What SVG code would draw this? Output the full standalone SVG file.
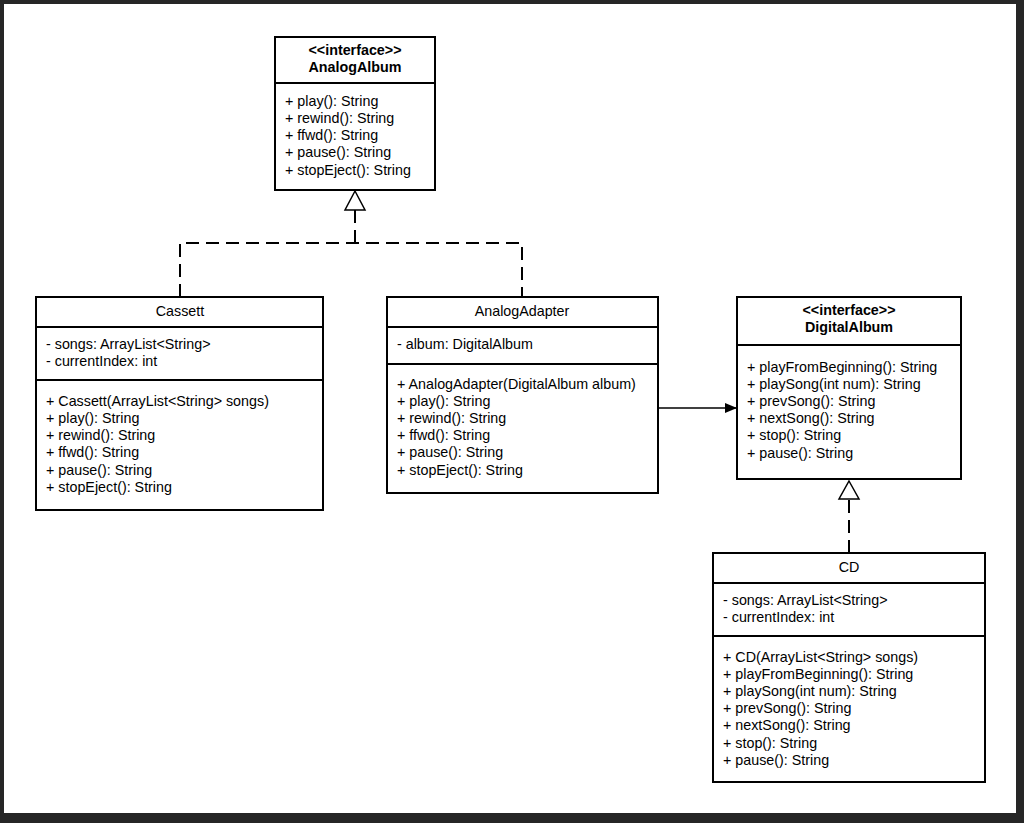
<svg xmlns="http://www.w3.org/2000/svg" width="1024" height="823" viewBox="0 0 1024 823">
<defs>
<style>
.box{fill:#fff;stroke:#000;stroke-width:2}
.div{stroke:#000;stroke-width:2}
text{font-family:"Liberation Sans",Arial,sans-serif;font-size:14.3px;fill:#000}
.t{text-anchor:middle}
.b{font-weight:bold}
.dash{fill:none;stroke:#000;stroke-width:2;stroke-dasharray:13 7}
.line{fill:none;stroke:#000;stroke-width:1.5}
.tri{fill:#fff;stroke:#000;stroke-width:1.5}
</style>
<marker id="arr" markerWidth="12" markerHeight="10" refX="12" refY="5" orient="auto" markerUnits="userSpaceOnUse">
<path d="M0,0 L12,5 L0,10 Z" fill="#000"/>
</marker>
</defs>
<rect x="0" y="0" width="1024" height="823" fill="#262626"/>
<rect x="4" y="4" width="1012" height="809" fill="#fff"/>

<g id="connectors">
<path class="dash" d="M180,297 V243 H522 V297"/>
<path class="dash" d="M355,243 V210"/>
<path class="tri" d="M355,191 L365,210 L345,210 Z"/>
<path class="dash" d="M849,553 V499"/>
<path class="tri" d="M849,481 L859,499 L839,499 Z"/>
<path class="line" d="M658,408 H737" marker-end="url(#arr)"/>
</g>

<g id="AnalogAlbum">
<rect class="box" x="275" y="37" width="160" height="153"/>
<line class="div" x1="275" y1="83" x2="435" y2="83"/>
<text class="t b" x="355" y="55">&lt;&lt;interface&gt;&gt;</text>
<text class="t b" x="355" y="72">AnalogAlbum</text>
<text x="285" y="106">+ play(): String</text>
<text x="285" y="123">+ rewind(): String</text>
<text x="285" y="140">+ ffwd(): String</text>
<text x="285" y="157">+ pause(): String</text>
<text x="285" y="175">+ stopEject(): String</text>
</g>

<g id="Cassett">
<rect class="box" x="36" y="297" width="287" height="213"/>
<line class="div" x1="36" y1="327" x2="323" y2="327"/>
<line class="div" x1="36" y1="380" x2="323" y2="380"/>
<text class="t" x="180" y="316">Cassett</text>
<text x="46" y="349">- songs: ArrayList&lt;String&gt;</text>
<text x="46" y="366">- currentIndex: int</text>
<text x="46" y="406">+ Cassett(ArrayList&lt;String&gt; songs)</text>
<text x="46" y="423">+ play(): String</text>
<text x="46" y="440">+ rewind(): String</text>
<text x="46" y="457">+ ffwd(): String</text>
<text x="46" y="475">+ pause(): String</text>
<text x="46" y="492">+ stopEject(): String</text>
</g>

<g id="AnalogAdapter">
<rect class="box" x="387" y="297" width="271" height="196"/>
<line class="div" x1="387" y1="327" x2="658" y2="327"/>
<line class="div" x1="387" y1="364" x2="658" y2="364"/>
<text class="t" x="522" y="316">AnalogAdapter</text>
<text x="397" y="349">- album: DigitalAlbum</text>
<text x="397" y="389">+ AnalogAdapter(DigitalAlbum album)</text>
<text x="397" y="406">+ play(): String</text>
<text x="397" y="423">+ rewind(): String</text>
<text x="397" y="440">+ ffwd(): String</text>
<text x="397" y="457">+ pause(): String</text>
<text x="397" y="475">+ stopEject(): String</text>
</g>

<g id="DigitalAlbum">
<rect class="box" x="737" y="297" width="224" height="182"/>
<line class="div" x1="737" y1="345" x2="961" y2="345"/>
<text class="t b" x="849" y="315">&lt;&lt;interface&gt;&gt;</text>
<text class="t b" x="849" y="332">DigitalAlbum</text>
<text x="747" y="372">+ playFromBeginning(): String</text>
<text x="747" y="389">+ playSong(int num): String</text>
<text x="747" y="406">+ prevSong(): String</text>
<text x="747" y="423">+ nextSong(): String</text>
<text x="747" y="440">+ stop(): String</text>
<text x="747" y="458">+ pause(): String</text>
</g>

<g id="CD">
<rect class="box" x="713" y="553" width="272" height="229"/>
<line class="div" x1="713" y1="583" x2="985" y2="583"/>
<line class="div" x1="713" y1="636" x2="985" y2="636"/>
<text class="t" x="849" y="572">CD</text>
<text x="723" y="605">- songs: ArrayList&lt;String&gt;</text>
<text x="723" y="622">- currentIndex: int</text>
<text x="723" y="662">+ CD(ArrayList&lt;String&gt; songs)</text>
<text x="723" y="679">+ playFromBeginning(): String</text>
<text x="723" y="696">+ playSong(int num): String</text>
<text x="723" y="713">+ prevSong(): String</text>
<text x="723" y="730">+ nextSong(): String</text>
<text x="723" y="748">+ stop(): String</text>
<text x="723" y="765">+ pause(): String</text>
</g>
</svg>
